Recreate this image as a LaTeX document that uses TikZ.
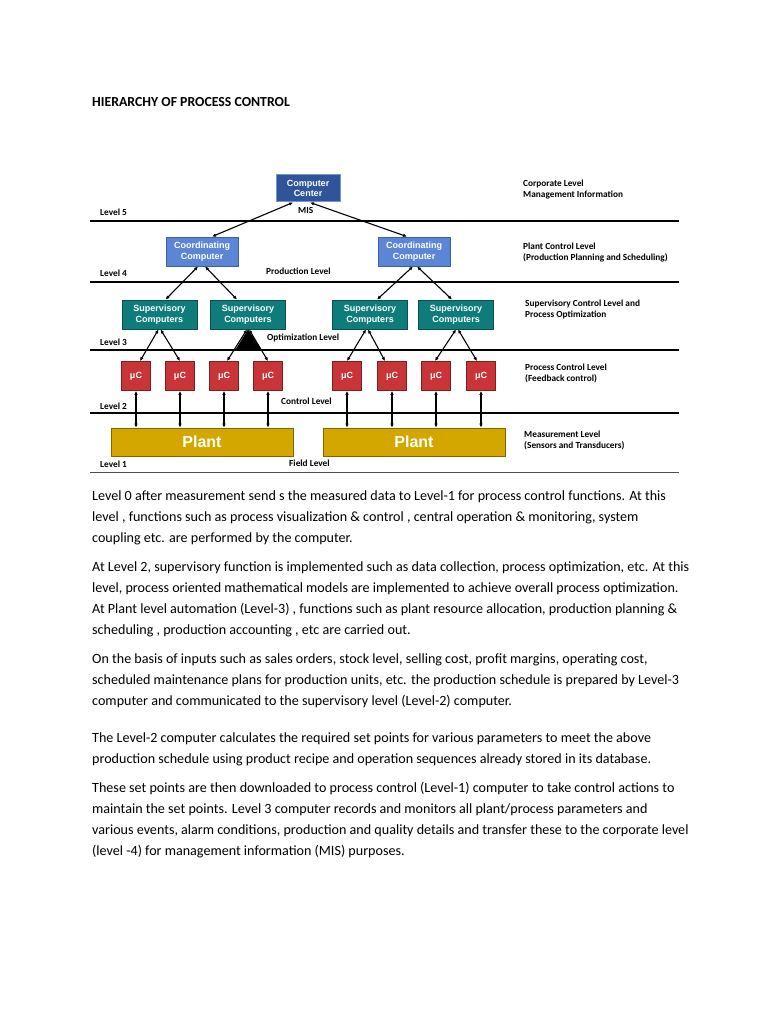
\documentclass[tikz,border=0pt]{standalone}
\usepackage{fontspec}
\setmainfont{Carlito}
\newfontfamily\boxfont{Liberation Sans}
\usetikzlibrary{arrows.meta,calc}
\definecolor{ccfill}{RGB}{47,84,156}
\definecolor{ccdraw}{RGB}{120,150,200}
\definecolor{cofill}{RGB}{92,133,214}
\definecolor{codraw}{RGB}{60,95,170}
\definecolor{svfill}{RGB}{14,124,123}
\definecolor{svdraw}{RGB}{10,80,80}
\definecolor{mcfill}{RGB}{200,52,56}
\definecolor{mcdraw}{RGB}{130,30,30}
\definecolor{plfill}{RGB}{212,167,0}
\definecolor{pldraw}{RGB}{130,100,0}
\tikzset{
  x=1pt,y=-1pt,
  boxtxt/.style={text=white,font=\boxfont\bfseries\fontsize{9}{10.5}\selectfont,align=center,inner sep=0pt},
  ccbox/.style={boxtxt,fill=ccfill,draw=ccdraw,line width=1pt,minimum width=64pt,minimum height=27pt},
  cobox/.style={boxtxt,fill=cofill,draw=codraw,line width=0.8pt,minimum width=72pt,minimum height=29pt},
  svbox/.style={boxtxt,fill=svfill,draw=svdraw,line width=0.8pt,minimum width=75pt,minimum height=29pt},
  mcbox/.style={boxtxt,fill=mcfill,draw=mcdraw,line width=0.8pt,minimum width=29pt,minimum height=29pt},
  plbox/.style={text=white,font=\boxfont\bfseries\fontsize{16}{18}\selectfont,inner sep=0pt,fill=plfill,draw=pldraw,line width=0.8pt,minimum width=182pt,minimum height=28pt},
  lvl/.style={font=\bfseries\fontsize{9.3}{11}\selectfont,anchor=base west,inner sep=0pt},
  side/.style={font=\bfseries\fontsize{9.3}{11}\selectfont,anchor=base west,inner sep=0pt},
  body/.style={font=\fontsize{14.1}{17}\selectfont,anchor=base west,inner sep=0pt},
  arr/.style={{Latex[length=4pt,width=3.6pt]}-{Latex[length=4pt,width=3.6pt]},line width=1.1pt},
  levline/.style={line width=1.8pt}
}
\begin{document}
\begin{tikzpicture}
\useasboundingbox[fill=white] (0,0) rectangle (768,1024);
% title
\node[font=\bfseries\fontsize{13.8}{16}\selectfont,anchor=base west,inner sep=0pt] (title) at (92,107) {HIERARCHY OF PROCESS CONTROL};
% level lines
\draw[levline] (90,221) -- (679,221);
\draw[levline] (90,282) -- (679,282);
\draw[levline] (90,350) -- (679,350);
\draw[levline] (90,413) -- (679,413);
\draw[line width=1pt,black!70] (90,472) -- (679,472);
% level labels
\node[lvl] (l5) at (100,215) {Level 5};
\node[lvl] (l4) at (100,276) {Level 4};
\node[lvl] (l3) at (100,345) {Level 3};
\node[lvl] (l2) at (100,409) {Level 2};
\node[lvl] (l1) at (100,467) {Level 1};
\node[lvl] (mis) at (298,214) {MIS};
\node[lvl] (prodl) at (266,274) {Production Level};
\node[lvl] (optl) at (267,340) {Optimization Level};
\node[lvl] (ctrll) at (281,404) {Control Level};
\node[lvl] (fieldl) at (289,466) {Field Level};
% side labels
\node[side] (s1a) at (523,187) {Corporate Level};
\node[side] (s1b) at (523,198) {Management Information};
\node[side] (s2a) at (523,249) {Plant Control Level};
\node[side] (s2b) at (523,260) {(Production Planning and Scheduling)};
\node[side] (s3a) at (525,306) {Supervisory Control Level and};
\node[side] (s3b) at (525,317) {Process Optimization};
\node[side] (s4a) at (525,370) {Process Control Level};
\node[side] (s4b) at (525,381) {(Feedback control)};
\node[side] (s5a) at (524,437) {Measurement Level};
\node[side] (s5b) at (524,448) {(Sensors and Transducers)};
% boxes
\node[ccbox] (cc) at (308,188.5) {Computer\\Center};
\node[cobox] (c1) at (202,251.5) {Coordinating\\Computer};
\node[cobox] (c2) at (414,251.5) {Coordinating\\Computer};
\node[svbox] (v1) at (159.5,314.5) {Supervisory\\Computers};
\node[svbox] (v2) at (248,314.5) {Supervisory\\Computers};
\node[svbox] (v3) at (370,314.5) {Supervisory\\Computers};
\node[svbox] (v4) at (456,314.5) {Supervisory\\Computers};
\foreach \i/\xx in {1/136,2/180,3/224,4/268,5/347,6/392,7/436,8/481}
  \node[mcbox] (m\i) at (\xx,376) {μC};
\node[plbox] (p1) at (202,442) {Plant};
\node[plbox] (p2) at (414,442) {Plant};
% arrows
\draw[arr] ($(cc.south)+(-15,0)$) -- ($(c1.north)+(10,0)$);
\draw[arr] ($(cc.south)+(2,0)$) -- ($(c2.north)+(-7,0)$);
\draw[arr] ($(c1.south)+(-4,0)$) -- ($(v1.north)+(6,0)$);
\draw[arr] ($(c1.south)+(3,0)$) -- ($(v2.north)+(-11,0)$);
\draw[arr] ($(c2.south)+(-1,0)$) -- ($(v3.north)+(7,0)$);
\draw[arr] ($(c2.south)+(3,0)$) -- ($(v4.north)+(-4,0)$);
\fill ($(v2.south)+(-13,21)$) -- ($(v2.south)+(14,21)$) -- (v2.south) -- cycle;
\draw[arr] ($(v1.south)+(-1,0)$) -- ($(m1.north)+(4,0)$);
\draw[arr] ($(v1.south)+(1,0)$) -- (m2.north);
\draw[arr] ($(v2.south)+(-1,0)$) -- ($(m3.north)+(3,0)$);
\draw[arr] ($(v2.south)+(1,0)$) -- (m4.north);
\draw[arr] ($(v3.south)+(-4,0)$) -- (m5.north);
\draw[arr] ($(v3.south)+(-2,0)$) -- ($(m6.north)+(-7,0)$);
\draw[arr] ($(v4.south)+(0,0)$) -- ($(m7.north)+(-1,0)$);
\draw[arr] ($(v4.south)+(2,0)$) -- ($(m8.north)+(-4,0)$);
\foreach \i in {1,2,3,4}
  \draw[arr] (m\i.south) -- (m\i.south |- p1.north);
\foreach \i in {5,6,7,8}
  \draw[arr] (m\i.south) -- (m\i.south |- p2.north);
% body text
\node[body] (t1) at (92,500) {Level 0 after measurement send s the measured data to Level-1 for process control functions. At this};
\node[body] (t2) at (92,521) {level , functions such as process visualization \& control , central operation \& monitoring, system};
\node[body] (t3) at (92,542) {coupling etc. are performed by the computer.};
\node[body] (t4) at (92,571) {At Level 2, supervisory function is implemented such as data collection, process optimization, etc. At this};
\node[body] (t5) at (92,592) {level, process oriented mathematical models are implemented to achieve overall process optimization.};
\node[body] (t6) at (92,613) {At Plant level automation (Level-3) , functions such as plant resource allocation, production planning \&};
\node[body] (t7) at (92,634) {scheduling , production accounting , etc are carried out.};
\node[body] (t8) at (92,663) {On the basis of inputs such as sales orders, stock level, selling cost, profit margins, operating cost,};
\node[body] (t9) at (92,684) {scheduled maintenance plans for production units, etc. the production schedule is prepared by Level-3};
\node[body] (t10) at (92,705) {computer and communicated to the supervisory level (Level-2) computer.};
\node[body] (t11) at (92,742) {The Level-2 computer calculates the required set points for various parameters to meet the above};
\node[body] (t12) at (92,763) {production schedule using product recipe and operation sequences already stored in its database.};
\node[body] (t13) at (92,792) {These set points are then downloaded to process control (Level-1) computer to take control actions to};
\node[body] (t14) at (92,813) {maintain the set points. Level 3 computer records and monitors all plant/process parameters and};
\node[body] (t15) at (92,834) {various events, alarm conditions, production and quality details and transfer these to the corporate level};
\node[body] (t16) at (92,855) {(level -4) for management information (MIS) purposes.};
\end{tikzpicture}
\end{document}
